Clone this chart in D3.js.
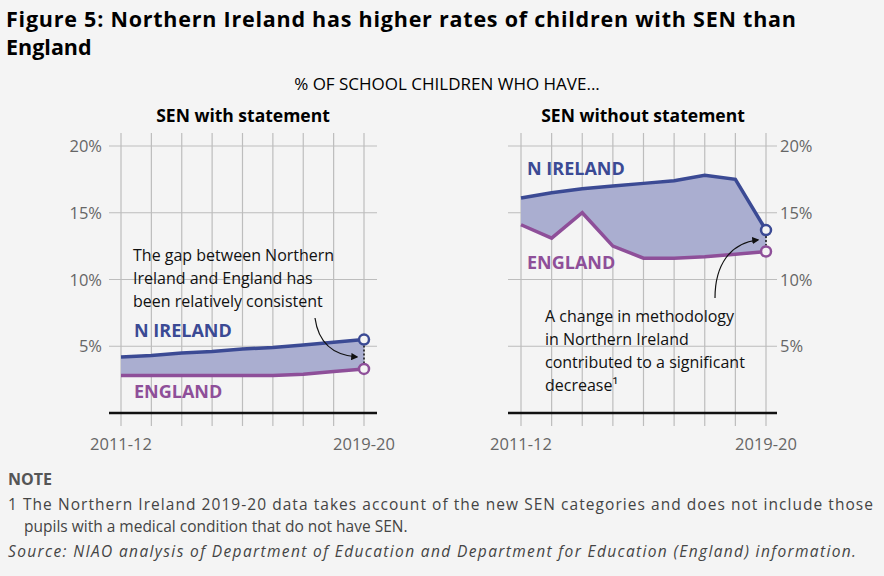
<!DOCTYPE html>
<html><head><meta charset="utf-8">
<script src="https://cdn.jsdelivr.net/npm/d3@7"></script>
<style>
body{margin:0;background:#f4f4f4;font-family:"Open Sans",sans-serif;}
</style></head>
<body><div id="area"></div>
<script>
let years = ["2011-12","2012-13","2013-14","2014-15","2015-16","2016-17","2017-18","2018-19","2019-20"];
let niWith    = [4.2, 4.3, 4.5, 4.6, 4.8, 4.9, 5.1, 5.3, 5.5];
let engWith   = [2.8, 2.8, 2.8, 2.8, 2.8, 2.8, 2.9, 3.1, 3.3];
let niWithout  = [16.1, 16.5, 16.8, 17.0, 17.2, 17.4, 17.8, 17.5, 13.7];
let engWithout = [14.1, 13.1, 15.0, 12.5, 11.6, 11.6, 11.7, 11.9, 12.1];
let yTicks = [5, 10, 15, 20];

let NI = "#3b4a94", ENG = "#8e4f99", FILL = "#aaaed0", GRID = "#bdbdbd";

let svg = d3.select("#area").append("svg").attr("width", 884).attr("height", 576);
svg.append("rect").attr("width", 884).attr("height", 576).attr("fill", "#f4f4f4");

svg.append("text").attr("x", 6).attr("y", 27).attr("font-size", 21.5).attr("font-weight", 700)
  .attr("textLength", 790).text("Figure 5: Northern Ireland has higher rates of children with SEN than");
svg.append("text").attr("x", 6).attr("y", 55).attr("font-size", 21.5).attr("font-weight", 700)
  .text("England");
svg.append("text").attr("x", 447).attr("y", 90).attr("text-anchor", "middle").attr("font-size", 17)
  .text("% OF SCHOOL CHILDREN WHO HAVE...");

let y = d3.scaleLinear().domain([0, 20]).range([413, 146]);

function panel(o) {
  let x = d3.scalePoint().domain(years).range(o.xr);
  let g = svg.append("g");
  g.append("text").attr("x", o.tx).attr("y", 122).attr("text-anchor", "middle")
    .attr("font-size", 17.5).attr("font-weight", 700).text(o.title);
  g.selectAll(".v").data(years).join("line")
    .attr("x1", d => x(d)).attr("x2", d => x(d)).attr("y1", 133).attr("y2", 426)
    .attr("stroke", GRID).attr("stroke-width", 1.2);
  g.selectAll(".h").data(yTicks).join("line")
    .attr("x1", o.gx[0]).attr("x2", o.gx[1]).attr("y1", d => y(d)).attr("y2", d => y(d))
    .attr("stroke", GRID).attr("stroke-width", 1.2);
  g.selectAll(".yl").data(yTicks).join("text")
    .attr("x", o.lx).attr("y", d => y(d) + 6).attr("text-anchor", o.anchor)
    .attr("font-size", 16.5).attr("fill", "#666").text(d => d + "%");
  g.append("line").attr("x1", o.gx[0]).attr("x2", o.gx[1]).attr("y1", y(0)).attr("y2", y(0))
    .attr("stroke", "#111").attr("stroke-width", 2.5);
  let data = years.map((d, i) => ({yr: d, ni: o.ni[i], en: o.en[i]}));
  g.append("path").datum(data).attr("fill", FILL)
    .attr("d", d3.area().x(d => x(d.yr)).y0(d => y(d.en)).y1(d => y(d.ni)));
  [["ni", NI], ["en", ENG]].forEach(([k, c]) => {
    g.append("path").datum(data).attr("fill", "none").attr("stroke", c).attr("stroke-width", 3.5)
      .attr("d", d3.line().x(d => x(d.yr)).y(d => y(d[k])));
  });
  let last = data[data.length - 1];
  g.append("line").attr("x1", x(last.yr)).attr("x2", x(last.yr))
    .attr("y1", y(last.ni) + 6).attr("y2", y(last.en) - 6)
    .attr("stroke", "#111").attr("stroke-width", 1.5).attr("stroke-dasharray", "2,2");
  [["ni", NI], ["en", ENG]].forEach(([k, c]) => {
    g.append("circle").attr("cx", x(last.yr)).attr("cy", y(last[k])).attr("r", 5)
      .attr("fill", "#f4f4f4").attr("stroke", c).attr("stroke-width", 2.5);
  });
  g.append("text").attr("x", x(years[0])).attr("y", 450).attr("text-anchor", "middle")
    .attr("font-size", 16.5).attr("fill", "#666").text(years[0]);
  g.append("text").attr("x", x(years[8])).attr("y", 450).attr("text-anchor", "middle")
    .attr("font-size", 16.5).attr("fill", "#666").text(years[8]);
  g.append("text").attr("x", o.niLab[0]).attr("y", o.niLab[1]).attr("font-size", 18)
    .attr("font-weight", 700).attr("fill", NI).text("N IRELAND");
  g.append("text").attr("x", o.enLab[0]).attr("y", o.enLab[1]).attr("font-size", 18)
    .attr("font-weight", 700).attr("fill", ENG).text("ENGLAND");
  let t = g.append("text").attr("font-size", 16).attr("fill", "#111");
  o.note.forEach((s, i) => t.append("tspan").attr("x", o.noteXY[0]).attr("y", o.noteXY[1] + i * 23).text(s));
  g.append("path").attr("d", o.arrow).attr("fill", "none").attr("stroke", "#111").attr("stroke-width", 1.2)
    .attr("marker-end", "url(#arr)");
  return x;
}

svg.append("defs").append("marker").attr("id", "arr").attr("viewBox", "0 0 10 10")
  .attr("refX", 8).attr("refY", 5).attr("markerWidth", 6).attr("markerHeight", 6).attr("orient", "auto")
  .append("path").attr("d", "M0,0L10,5L0,10z").attr("fill", "#111");

panel({xr: [121, 364], gx: [109, 377], lx: 102, anchor: "end", tx: 243, title: "SEN with statement",
  ni: niWith, en: engWith, niLab: [134, 337], enLab: [134, 398],
  note: ["The gap between Northern", "Ireland and England has", "been relatively consistent"],
  noteXY: [133, 261], arrow: "M315,318 C318,340 330,355 357,357"});
panel({xr: [521, 766], gx: [508, 777], lx: 780, anchor: "start", tx: 643, title: "SEN without statement",
  ni: niWithout, en: engWithout, niLab: [527, 175], enLab: [527, 269],
  note: ["A change in methodology", "in Northern Ireland", "contributed to a significant", "decrease\u00b9"],
  noteXY: [545, 322], arrow: "M715,298 C715,265 730,243 758,240"});

svg.append("text").attr("x", 8).attr("y", 485).attr("font-size", 16).attr("font-weight", 700)
  .attr("fill", "#555").text("NOTE");
svg.append("text").attr("x", 8).attr("y", 510).attr("font-size", 15.5).attr("fill", "#444")
  .attr("textLength", 865).text("1  The Northern Ireland 2019-20 data takes account of the new SEN categories and does not include those");
svg.append("text").attr("x", 24).attr("y", 532).attr("font-size", 15.5).attr("fill", "#444")
  .text("pupils with a medical condition that do not have SEN.");
svg.append("text").attr("x", 8).attr("y", 557).attr("font-size", 15.5).attr("font-style", "italic").attr("fill", "#444")
  .attr("textLength", 848).text("Source: NIAO analysis of Department of Education and Department for Education (England) information.");
</script></body></html>
